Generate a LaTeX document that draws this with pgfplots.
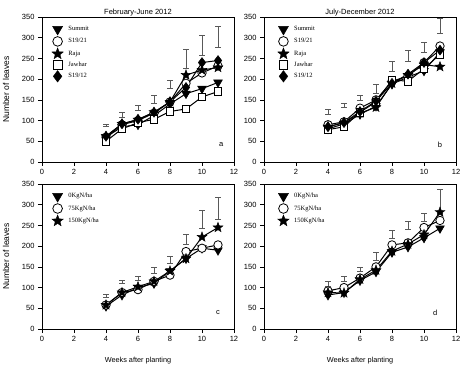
\documentclass[border=0pt]{standalone}
\usepackage{pgfplots}
\pgfplotsset{compat=1.18}
\usepackage{fontspec}
\setmainfont{Liberation Sans}
\newfontfamily\serif{Liberation Serif}

\pgfdeclareplotmark{fstar}{%
  \pgfpathmoveto{\pgfpointpolar{90}{1.3\pgfplotmarksize}}%
  \pgfpathlineto{\pgfpointpolar{126}{0.55\pgfplotmarksize}}%
  \pgfpathlineto{\pgfpointpolar{162}{1.3\pgfplotmarksize}}%
  \pgfpathlineto{\pgfpointpolar{198}{0.55\pgfplotmarksize}}%
  \pgfpathlineto{\pgfpointpolar{234}{1.3\pgfplotmarksize}}%
  \pgfpathlineto{\pgfpointpolar{270}{0.55\pgfplotmarksize}}%
  \pgfpathlineto{\pgfpointpolar{306}{1.3\pgfplotmarksize}}%
  \pgfpathlineto{\pgfpointpolar{342}{0.55\pgfplotmarksize}}%
  \pgfpathlineto{\pgfpointpolar{18}{1.3\pgfplotmarksize}}%
  \pgfpathlineto{\pgfpointpolar{54}{0.55\pgfplotmarksize}}%
  \pgfpathclose
  \pgfusepathqfillstroke
}

\pgfplotstableread{
x  s1  s2  s3  s4  s5
4  60  60  62  50  62
5  85  90  92  80  92
6  90  100 102 95  103
7  112 118 120 103 120
8  140 145 145 122 145
9  165 190 210 128 180
10 177 215 222 157 240
11 192 232 228 170 245
}\dataA
\pgfplotstableread{
x  c     e
4  89    3
5  114   6
6  131   6
7  151   10
8  188   10
9  249.5 23.5
10 282   24
11 302   25
}\barsA
\pgfplotstableread{
x  s1  s2  s3  s4  s5
4  80  90  85  78  85
5  92  97  95  85  95
6  115 130 118 120 122
7  135 150 132 145 147
8  188 195 190 198 190
9  205 207 210 195 212
10 220 240 235 225 240
11 265 280 230 260 270
}\dataB
\pgfplotstableread{
x  c     e
4  120   6
5  137   4
6  155   6
7  176.5 11.5
8  230.5 11.5
9  256   14
10 276   12
11 328.5 17.5
}\barsB
\pgfplotstableread{
x  n0  n75 n150
4  55  58  58
5  82  88  88
6  100 95  102
7  110 115 115
8  140 130 140
9  170 187 170
10 195 195 222
11 190 203 245
}\dataC
\pgfplotstableread{
x  c     e
4  80.5  3.5
5  113   4
6  122.5 5.5
7  142.5 7.5
8  167.5 8.5
9  216.5 11.5
10 265   22
11 291.5 26.5
}\barsC
\pgfplotstableread{
x  n0  n75 n150
4  82  92  88
5  88  100 87
6  117 123 120
7  138 150 142
8  185 203 188
9  198 208 205
10 220 245 228
11 243 262 282
}\dataD
\pgfplotstableread{
x  c    e
4  110  6
5  120  6
6  144  6
7  176  10
8  228  10
9  250  10
10 269  9
11 308  28
}\barsD

\pgfplotsset{
  panel/.style={
    width=192pt, height=145pt, scale only axis,
    anchor=south west,
    xmin=0, xmax=12, ymin=0, ymax=350,
    xtick={0,2,...,12}, ytick={0,50,...,350},
    tick align=outside, tick pos=left,
    major tick length=4pt,
    tick style={black, line width=0.6pt},
    axis line style={line width=0.6pt},
    tick label style={font=\fontsize{7.5}{8}\selectfont},
    /pgf/number format/assume math mode=true,
    every axis y label/.style={at={(axis description cs:-0.1875,0.5)}, rotate=90, anchor=center, font=\fontsize{8.5}{10}\selectfont},
    every axis x label/.style={at={(axis description cs:0.5,-0.22)}, anchor=center, font=\fontsize{7.3}{9}\selectfont},
    every axis title shift=0pt,
    title style={font=\fontsize{7.5}{9}\selectfont, at={(axis description cs:0.5,1)}, anchor=base, yshift=2.5pt, inner sep=0pt},
    clip=false,
    legend style={draw=none, fill=none, at={(0.035,0.955)}, anchor=north west,
      font=\serif\fontsize{6.5}{7.5}\selectfont, row sep=1.6pt,
      nodes={inner sep=0.6pt},
      /tikz/every odd column/.append style={column sep=4.5pt}},
    legend cell align=left,
    legend image code/.code={\draw[##1,/tikz/only marks,/tikz/every mark/.append style={scale=1.15}] plot coordinates {(0pt,0pt)};},
  },
  sA/.style={black, line width=1pt, mark=triangle*, mark size=5pt, mark options={rotate=180, fill=black, line width=0.5pt}},
  sB/.style={black, line width=1pt, mark=*, mark size=4.2pt, mark options={fill=white, line width=0.8pt}},
  sC/.style={black, line width=1pt, mark=fstar, mark size=4pt, mark options={fill=black, line width=0.4pt}},
  sD/.style={black, line width=1pt, mark=square*, mark size=3.8pt, mark options={fill=white, line width=0.8pt}},
  sE/.style={black, line width=1pt, mark=diamond*, mark size=5pt, mark options={fill=black, line width=0.4pt}},
  ebar/.style={forget plot, draw=none, mark=none,
    error bars/.cd, y dir=both, y explicit,
    error bar style={draw=black!65, line width=0.7pt, solid},
    error mark options={rotate=90, mark size=2.6pt, draw=black!65, line width=0.7pt}},
}

\begin{document}
\begin{tikzpicture}[x=1pt,y=1pt]
\path[use as bounding box] (0,0) rectangle (474,-366);

% panel a
\begin{axis}[panel, at={(42pt,-162pt)}, title={February-June 2012}, ylabel={Number of leaves}]
\addplot[ebar] table[x=x, y=c, y error=e] {\barsA};
\addplot[sA] table[x=x, y=s1] {\dataA}; \addlegendentry{Summit}
\addplot[sB] table[x=x, y=s2] {\dataA}; \addlegendentry{S19/21}
\addplot[sC] table[x=x, y=s3] {\dataA}; \addlegendentry{Raja}
\addplot[sD] table[x=x, y=s4] {\dataA}; \addlegendentry{Jawhar}
\addplot[sE] table[x=x, y=s5] {\dataA}; \addlegendentry{S19/12}
\node[font=\fontsize{7.5}{9}\selectfont] at (axis cs:11.2,42) {a};
\end{axis}

% panel b
\begin{axis}[panel, at={(264pt,-162pt)}, title={July-December 2012},
  legend style={at={(0.055,0.955)}}]
\addplot[ebar] table[x=x, y=c, y error=e] {\barsB};
\addplot[sA] table[x=x, y=s1] {\dataB}; \addlegendentry{Summit}
\addplot[sB] table[x=x, y=s2] {\dataB}; \addlegendentry{S19/21}
\addplot[sC] table[x=x, y=s3] {\dataB}; \addlegendentry{Raja}
\addplot[sD] table[x=x, y=s4] {\dataB}; \addlegendentry{Jawhar}
\addplot[sE] table[x=x, y=s5] {\dataB}; \addlegendentry{S19/12}
\node[font=\fontsize{7.5}{9}\selectfont] at (axis cs:11.0,42) {b};
\end{axis}

% panel c
\begin{axis}[panel, at={(42pt,-329pt)}, ylabel={Number of leaves}, xlabel={Weeks after planting}]
\addplot[ebar] table[x=x, y=c, y error=e] {\barsC};
\addplot[sA] table[x=x, y=n0] {\dataC}; \addlegendentry{0KgN/ha}
\addplot[sB] table[x=x, y=n75] {\dataC}; \addlegendentry{75KgN/ha}
\addplot[sC] table[x=x, y=n150] {\dataC}; \addlegendentry{150KgN/ha}
\node[font=\fontsize{7.5}{9}\selectfont] at (axis cs:11.0,39) {c};
\end{axis}

% panel d
\begin{axis}[panel, at={(264pt,-329pt)}, xlabel={Weeks after planting},
  legend style={at={(0.055,0.955)}}]
\addplot[ebar] table[x=x, y=c, y error=e] {\barsD};
\addplot[sA] table[x=x, y=n0] {\dataD}; \addlegendentry{0KgN/ha}
\addplot[sB] table[x=x, y=n75] {\dataD}; \addlegendentry{75KgN/ha}
\addplot[sC] table[x=x, y=n150] {\dataD}; \addlegendentry{150KgN/ha}
\node[font=\fontsize{7.5}{9}\selectfont] at (axis cs:10.7,39) {d};
\end{axis}
\end{tikzpicture}
\end{document}
